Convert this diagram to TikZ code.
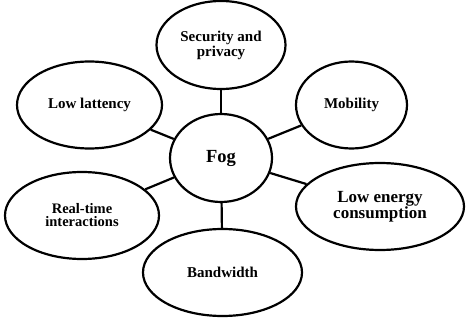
\documentclass[tikz,border=0pt]{standalone}
\usepackage{fontspec}
\setmainfont{Liberation Serif}
\usetikzlibrary{shapes.geometric}
\begin{document}
\begin{tikzpicture}[x=1pt,y=1pt,
  bubble/.style={draw,ellipse,line width=2.2pt,inner sep=0pt,align=center,
    font=\bfseries\fontsize{15}{15}\selectfont},
  link/.style={line width=2.2pt}]
\useasboundingbox (0,0) rectangle (474,319);

\node[bubble,minimum width=102pt,minimum height=88pt,font=\bfseries\fontsize{18.5}{18}\selectfont] (fog) at (221,161) {Fog};

\node[bubble,minimum width=129pt,minimum height=88pt] (sec) at (221,274) {Security and\\privacy};
\node[bubble,minimum width=145pt,minimum height=87pt] (lat) at (89.5,214) {Low lattency};
\node[bubble,minimum width=111pt,minimum height=87pt] (mob) at (351.5,214) {Mobility};
\node[bubble,minimum width=168pt,minimum height=87pt,font=\bfseries\fontsize{17}{16}\selectfont] (nrg) at (380,112.5) {Low energy\\consumption};
\node[bubble,minimum width=154pt,minimum height=87pt,font=\bfseries\fontsize{14.5}{13}\selectfont] (rt) at (82,103.5) {Real-time\\interactions};
\node[bubble,minimum width=159pt,minimum height=87pt] (bw) at (222.5,46.5) {Bandwidth};

\draw[link] (fog) -- (sec);
\draw[link] (fog) -- (lat);
\draw[link] (fog) -- (mob);
\draw[link] (fog) -- (nrg);
\draw[link] (fog) -- (rt);
\draw[link] (fog) -- (bw);
\end{tikzpicture}
\end{document}
